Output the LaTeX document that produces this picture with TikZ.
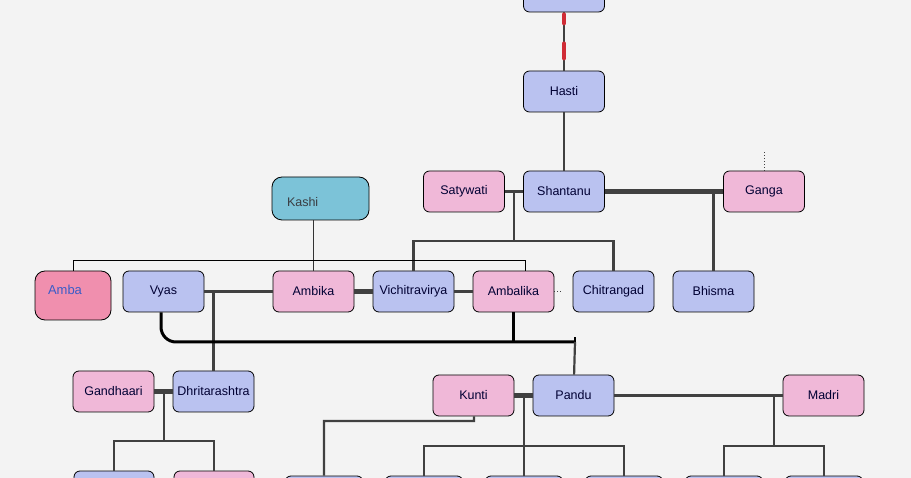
\documentclass[tikz,border=0pt]{standalone}
\usepackage{fontspec}
\setmainfont{Liberation Sans}
\definecolor{bgcol}{HTML}{F3F3F3}
\definecolor{mancol}{HTML}{BAC2F0}
\definecolor{womancol}{HTML}{F0B8D8}
\definecolor{ambacol}{HTML}{F08FAE}
\definecolor{kashicol}{HTML}{7CC3D8}
\definecolor{linecol}{HTML}{404040}
\definecolor{dashcol}{HTML}{D02C36}
\definecolor{ambatext}{HTML}{3A5CC8}
\begin{document}
\begin{tikzpicture}[x=1pt,y=-1pt,
  person/.style={draw=black,line width=0.8pt,rounded corners=6pt,minimum width=81pt,minimum height=41pt,
    inner sep=0pt,font=\fontsize{12.5}{14}\selectfont,text=black!80!blue},
  man/.style={person,fill=mancol},
  woman/.style={person,fill=womancol},
  kid/.style={minimum width=78pt},
  rel/.style={draw=linecol,line width=2.2pt},
  wed/.style={draw=linecol,line width=5pt},
  blackrel/.style={draw=black,line width=3pt}]
\useasboundingbox (0,0) rectangle (911,478);
\clip (0,0) rectangle (911,478);
\fill[bgcol] (0,0) rectangle (911,478);

\node[man] (top) at (564,-8.5) {};
\node[man] (hasti) at (564,91.5) {Hasti};
\node[man] (shantanu) at (564,191.5) {Shantanu};
\node[woman] (satywati) at (464,191.5) {Satywati};
\node[woman] (ganga) at (764,191.5) {Ganga};
\node[person,fill=kashicol,rounded corners=10pt,minimum width=97pt,minimum height=43pt,
  text width=67pt,align=left,text height=17pt,text=black!85!cyan] (kashi) at (320.5,198.5) {Kashi};
\node[person,fill=ambacol,rounded corners=10pt,minimum width=76pt,minimum height=49pt,
  text width=50pt,align=left,text depth=11pt,text=ambatext,font=\fontsize{13}{14}\selectfont] (amba) at (73,295.5) {Amba};
\node[man] (vyas) at (163.5,291.5) {Vyas};
\node[woman] (ambika) at (313.5,291.5) {Ambika};
\node[man] (vichitravirya) at (413.5,291.5) {Vichitravirya};
\node[woman] (ambalika) at (513.5,291.5) {Ambalika};
\node[man] (chitrangad) at (613.5,291.5) {Chitrangad};
\node[man] (bhisma) at (713.5,291.5) {Bhisma};
\node[woman] (gandhaari) at (113.5,391.5) {Gandhaari};
\node[man] (dhritarashtra) at (213.5,391.5) {Dhritarashtra};
\node[woman] (kunti) at (473.5,395.5) {Kunti};
\node[man] (pandu) at (573.5,395.5) {Pandu};
\node[woman] (madri) at (823.5,395.5) {Madri};
\node[man,minimum width=80pt] (dkid1) at (114,491.5) {};
\node[woman,minimum width=80pt] (dkid2) at (214,491.5) {};
\foreach \x [count=\i] in {324,424,524,624,724,824}
  \node[man,kid] (pkid\i) at (\x,496.5) {};

\coordinate (gangaup) at (764,151);
\coordinate (shj) at (514,241);
\coordinate (ambaj) at (525,261);
\coordinate (ambad) at (561,291.5);
\coordinate (pb) at (575,342);
\coordinate (gdj) at (164,441);
\coordinate (kuj) at (474,421);
\coordinate (kpj) at (524,446);
\coordinate (pmj) at (774,446);

\draw[rel] (top) -- (hasti);
\draw[dashcol,line width=4.5pt,line cap=round,dash pattern=on 8.5pt off 20.5pt on 14.5pt off 50pt,dash phase=91.25pt]
  (top.south) -- (hasti.north);
\draw[rel] (hasti) -- (shantanu);
\draw[rel] (satywati) -- (shantanu);
\draw[wed] (shantanu) -- (ganga);
\draw[dotted,draw=linecol,line width=1pt] (ganga) -- (gangaup);
\draw[rel] (satywati.east -| shj) -- (shj);
\draw[rel] (vichitravirya) |- (shj) -| (chitrangad);
\draw[rel] (ganga.west -| bhisma) -- (bhisma);
\draw[draw=black!80,line width=1.1pt] (kashi.south -| ambika) -- (ambika);
\draw[draw=black,line width=1pt] (amba) |- (ambaj) -- (ambaj |- ambalika.north);
\draw[rel] (vyas) -- (ambika);
\draw[wed] (ambika) -- (vichitravirya);
\draw[rel] (vichitravirya) -- (ambalika);
\draw[dotted,draw=linecol,line width=1pt] (ambalika) -- (ambad);
\draw[rel] (vyas.east -| dhritarashtra) -- (dhritarashtra);
\draw[blackrel,rounded corners=15pt] ([xshift=-2.5pt]vyas.south) |- (pb);
\draw[blackrel,line width=3.8pt] (ambalika) -- (ambalika |- pb);
\draw[draw=black,line width=1.2pt] (pb) -- ++(0,-5);
\draw[rel] (pb) -- (pandu);
\draw[wed] (gandhaari) -- (dhritarashtra);
\draw[rel] (gandhaari.east -| gdj) -- (gdj);
\draw[rel] (dkid1) |- (gdj) -| (dkid2);
\draw[wed] (kunti) -- (pandu);
\draw[rel] (kunti) -- (kuj) -| (pkid1);
\draw[rel] (kunti.east -| kpj) -- (kpj);
\draw[rel] (pkid2) |- (kpj) -| (pkid4);
\draw[rel] (kpj) -- (pkid3);
\draw[rel] (pandu) -- (madri);
\draw[rel] (madri.west -| pmj) -- (pmj);
\draw[rel] (pkid5) |- (pmj) -| (pkid6);
\end{tikzpicture}
\end{document}
